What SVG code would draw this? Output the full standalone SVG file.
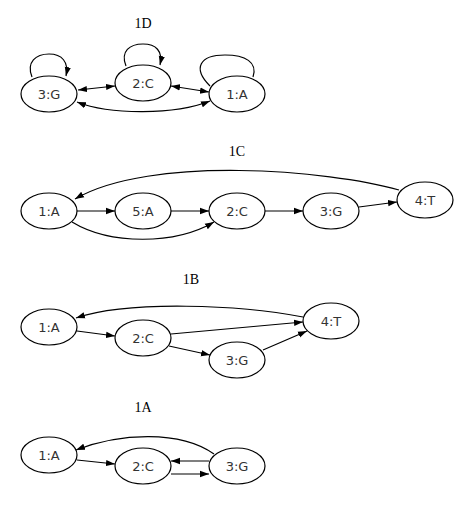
<svg xmlns="http://www.w3.org/2000/svg" width="474" height="507" viewBox="0 0 474 507">
<style>
.n ellipse{fill:none;stroke:#000;stroke-width:1.2}
.n text{font-family:"DejaVu Sans",sans-serif;font-size:13px;fill:#333;text-anchor:middle;dominant-baseline:central}
.t{font-family:"Liberation Serif",serif;font-size:14px;fill:#000;text-anchor:middle}
.e path{fill:none;stroke:#000;stroke-width:1.2}
</style>
<defs>
<marker id="a" viewBox="0 0 10 10" refX="10" refY="5" markerWidth="9" markerHeight="9" markerUnits="userSpaceOnUse" orient="auto-start-reverse"><path d="M0,1.5 L10,5 L0,8.5 Z" fill="#000"/></marker>
</defs>
<rect width="474" height="507" fill="#fff"/>
<text class="t" x="143" y="28">1D</text>
<text class="t" x="237" y="156">1C</text>
<text class="t" x="191" y="284">1B</text>
<text class="t" x="143" y="412">1A</text>
<g class="e" id="edges">
<!-- 1D -->
<path d="M32,77 C26,62 36,54 49,54 C62,54 69,62 66,76" marker-end="url(#a)"/>
<path d="M126,66 C120,51 130,44 143,44 C156,44 163,51 160,65" marker-end="url(#a)"/>
<path d="M253,77 C258,62 245,55 225,55 C200,55 192,68 210,86"/>
<path d="M78,90 L115,86" marker-start="url(#a)" marker-end="url(#a)"/>
<path d="M171,86 L209,92" marker-start="url(#a)" marker-end="url(#a)"/>
<path d="M77,102 C110,115 175,115 210,101" marker-start="url(#a)" marker-end="url(#a)"/>
<!-- 1C -->
<path d="M77,211 L115,211" marker-end="url(#a)"/>
<path d="M171,211 L209,211" marker-end="url(#a)"/>
<path d="M265,211 L303,211" marker-end="url(#a)"/>
<path d="M359,207 L397,202" marker-end="url(#a)"/>
<path d="M399,190 C330,170 150,155 75,199" marker-end="url(#a)"/>
<path d="M72,222 C110,245 175,245 214,222" marker-end="url(#a)"/>
<!-- 1B -->
<path d="M77,331 L115,336" marker-end="url(#a)"/>
<path d="M171,334 L303,322" marker-end="url(#a)"/>
<path d="M169,346 L210,355" marker-end="url(#a)"/>
<path d="M263,350 L307,331" marker-end="url(#a)"/>
<path d="M303,317 C240,305 130,300 76,318" marker-end="url(#a)"/>
<!-- 1A -->
<path d="M77,460 L115,464" marker-end="url(#a)"/>
<path d="M209,461 L171,461" marker-end="url(#a)"/>
<path d="M171,474 L209,474" marker-end="url(#a)"/>
<path d="M214,454 C180,430 120,433 76,450" marker-end="url(#a)"/>
</g>
<g class="n" id="d1_G"><ellipse cx="49" cy="94" rx="28" ry="18"/><text x="49" y="94">3:G</text></g>
<g class="n" id="d1_C"><ellipse cx="143" cy="83" rx="28" ry="18"/><text x="143" y="83">2:C</text></g>
<g class="n" id="d1_A"><ellipse cx="237" cy="94" rx="28" ry="18"/><text x="237" y="94">1:A</text></g>
<g class="n" id="c1_A"><ellipse cx="49" cy="211" rx="28" ry="18"/><text x="49" y="211">1:A</text></g>
<g class="n" id="c5_A"><ellipse cx="143" cy="211" rx="28" ry="18"/><text x="143" y="211">5:A</text></g>
<g class="n" id="c2_C"><ellipse cx="237" cy="211" rx="28" ry="18"/><text x="237" y="211">2:C</text></g>
<g class="n" id="c3_G"><ellipse cx="331" cy="211" rx="28" ry="18"/><text x="331" y="211">3:G</text></g>
<g class="n" id="c4_T"><ellipse cx="425" cy="200" rx="28" ry="18"/><text x="425" y="200">4:T</text></g>
<g class="n" id="b1_A"><ellipse cx="49" cy="327" rx="28" ry="18"/><text x="49" y="327">1:A</text></g>
<g class="n" id="b2_C"><ellipse cx="143" cy="338" rx="28" ry="18"/><text x="143" y="338">2:C</text></g>
<g class="n" id="b3_G"><ellipse cx="237" cy="360" rx="28" ry="18"/><text x="237" y="360">3:G</text></g>
<g class="n" id="b4_T"><ellipse cx="331" cy="321" rx="28" ry="18"/><text x="331" y="321">4:T</text></g>
<g class="n" id="a1_A"><ellipse cx="49" cy="455" rx="28" ry="18"/><text x="49" y="455">1:A</text></g>
<g class="n" id="a2_C"><ellipse cx="143" cy="466" rx="28" ry="18"/><text x="143" y="466">2:C</text></g>
<g class="n" id="a3_G"><ellipse cx="237" cy="466" rx="28" ry="18"/><text x="237" y="466">3:G</text></g>
</svg>
